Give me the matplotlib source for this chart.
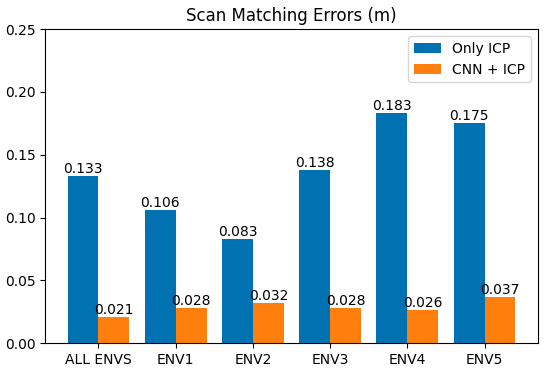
import matplotlib
matplotlib.use('Agg')
import matplotlib.pyplot as plt
import numpy as np

envs = ['ALL ENVS', 'ENV1', 'ENV2', 'ENV3', 'ENV4', 'ENV5']
only_icp = [0.133, 0.106, 0.083, 0.138, 0.183, 0.175]
cnn_icp = [0.021, 0.028, 0.032, 0.028, 0.026, 0.037]

x = np.arange(len(envs))
w = 0.4

fig, ax = plt.subplots(figsize=(5.5, 3.73), dpi=100)
b1 = ax.bar(x - w / 2, only_icp, w, color='#0072b2', label='Only ICP')
b2 = ax.bar(x + w / 2, cnn_icp, w, color='#ff7f0e', label='CNN + ICP')
ax.bar_label(b1, labels=[f'{v:.3f}' for v in only_icp], padding=0)
ax.bar_label(b2, labels=[f'{v:.3f}' for v in cnn_icp], padding=0)
ax.set_xticks(x)
ax.set_xticklabels(envs)
ax.set_ylim(0, 0.25)
ax.set_title('Scan Matching Errors (m)')
ax.legend(loc='upper right')
fig.subplots_adjust(left=0.082, right=0.978, top=0.922, bottom=0.08)
fig.savefig('out.png')
